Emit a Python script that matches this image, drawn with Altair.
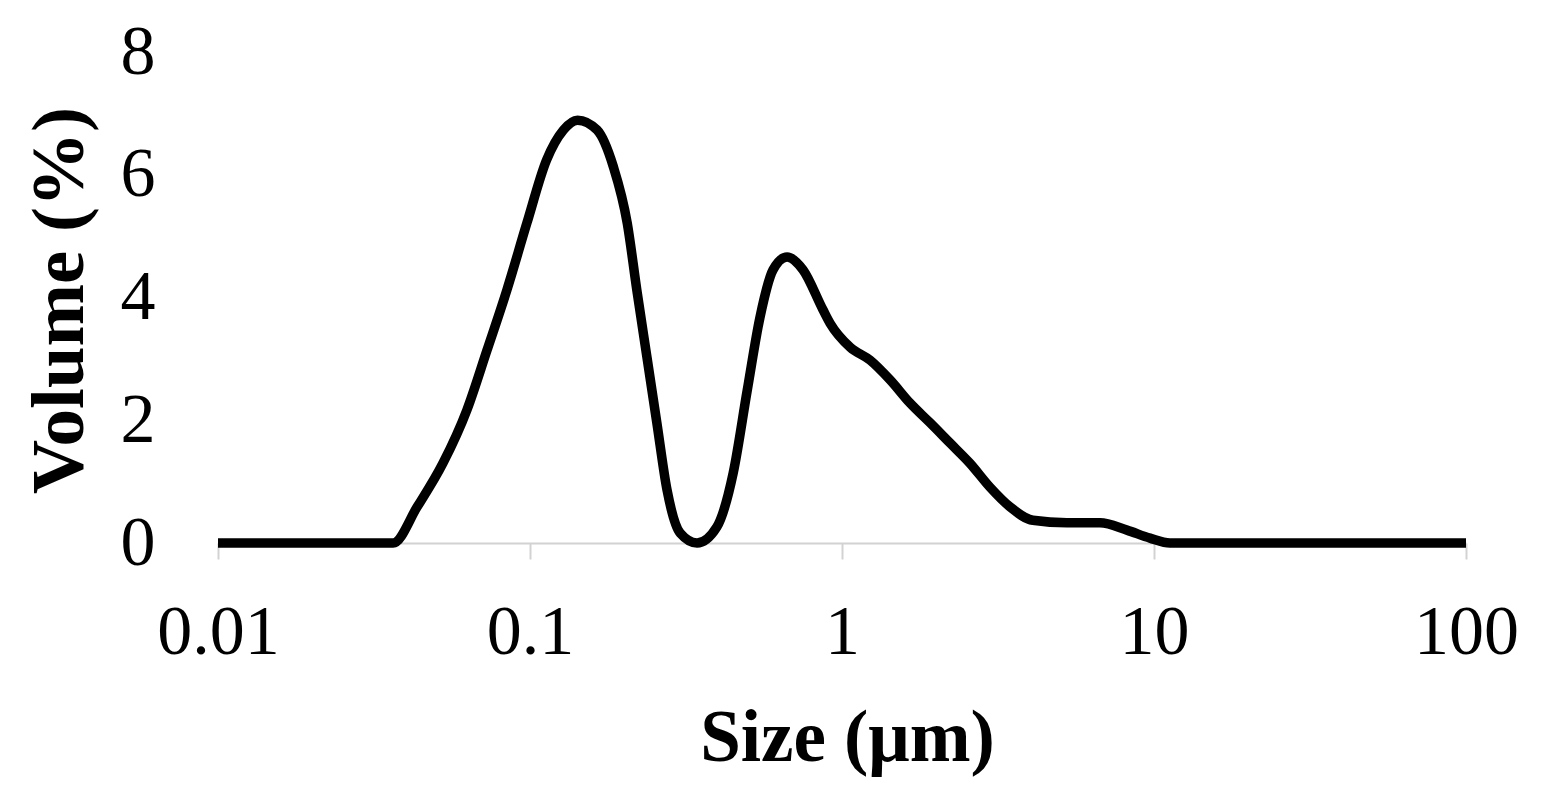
import altair as alt
import pandas as pd

# Particle size distribution
size_um = [0.01, 0.02, 0.0364, 0.0435, 0.0526, 0.0628, 0.0728, 0.0843, 0.0977,
           0.113, 0.128, 0.142, 0.164, 0.185, 0.205, 0.220, 0.237, 0.255, 0.275,
           0.303, 0.343, 0.397, 0.448, 0.497, 0.546, 0.601, 0.667, 0.750, 0.869,
           0.916, 1.062, 1.230, 1.425, 1.652, 1.914, 2.218, 2.570, 2.979, 3.452,
           4.09, 5.26, 6.71, 8.19, 9.71, 11.25, 30.0, 100.0]
volume_pct = [0, 0, 0, 0.59, 1.30, 2.17, 3.14, 4.12, 5.21,
              6.24, 6.73, 6.89, 6.73, 6.13, 5.21, 4.12, 3.03, 1.96, 0.86,
              0.16, 0, 0.26, 1.14, 2.49, 3.68, 4.45, 4.66, 4.45, 3.80,
              3.58, 3.19, 2.98, 2.66, 2.28, 1.96, 1.63, 1.30, 0.91, 0.59,
              0.37, 0.33, 0.33, 0.21, 0.08, 0, 0, 0]

x_ticks = [0.01, 0.1, 1, 10, 100]
y_ticks = [0, 2, 4, 6, 8]

df = pd.DataFrame({"size": size_um, "vol": volume_pct})

FONT = "Liberation Serif"
AXIS_GRAY = "#d2d2d2"

chart = alt.Chart(df).mark_line(
    color="black", strokeWidth=9.5, interpolate="monotone",
    strokeCap="butt", strokeJoin="round"
).encode(
    x=alt.X("size:Q",
            scale=alt.Scale(type="log", domain=[0.01, 100], nice=False),
            axis=alt.Axis(values=x_ticks, format="~g", title="Size (μm)",
                          grid=False, domainColor=AXIS_GRAY, domainWidth=2,
                          tickColor=AXIS_GRAY, tickWidth=2, tickSize=16,
                          labelFont=FONT, labelFontSize=70, labelColor="black",
                          labelBaseline="alphabetic", labelPadding=94,
                          labelFlush=False, labelOverlap=False,
                          titleFont=FONT, titleFontSize=73, titleFontWeight="bold",
                          titleColor="black", titleX=629, titleY=217,
                          titleBaseline="alphabetic", titleAlign="center")),
    y=alt.Y("vol:Q",
            scale=alt.Scale(domain=[0, 8], nice=False),
            axis=alt.Axis(values=y_ticks, title="Volume (%)", grid=False,
                          domain=False, ticks=False, labelPadding=63,
                          labelFont=FONT, labelFontSize=70, labelColor="black",
                          labelBaseline="middle", labelOverlap=False,
                          titleFont=FONT, titleFontSize=75, titleFontWeight="bold",
                          titleColor="black", titleAngle=270, titleX=-136,
                          titleY=248, titleBaseline="alphabetic",
                          titleAlign="center")),
).properties(
    width=1248, height=491,
    autosize=alt.AutoSizeParams(type="none"),
    padding={"left": 210, "top": 44, "right": 70, "bottom": 252},
    background="white",
).configure_view(stroke=None)

chart.save("out.html", embed_options={"renderer": "svg", "actions": False})
